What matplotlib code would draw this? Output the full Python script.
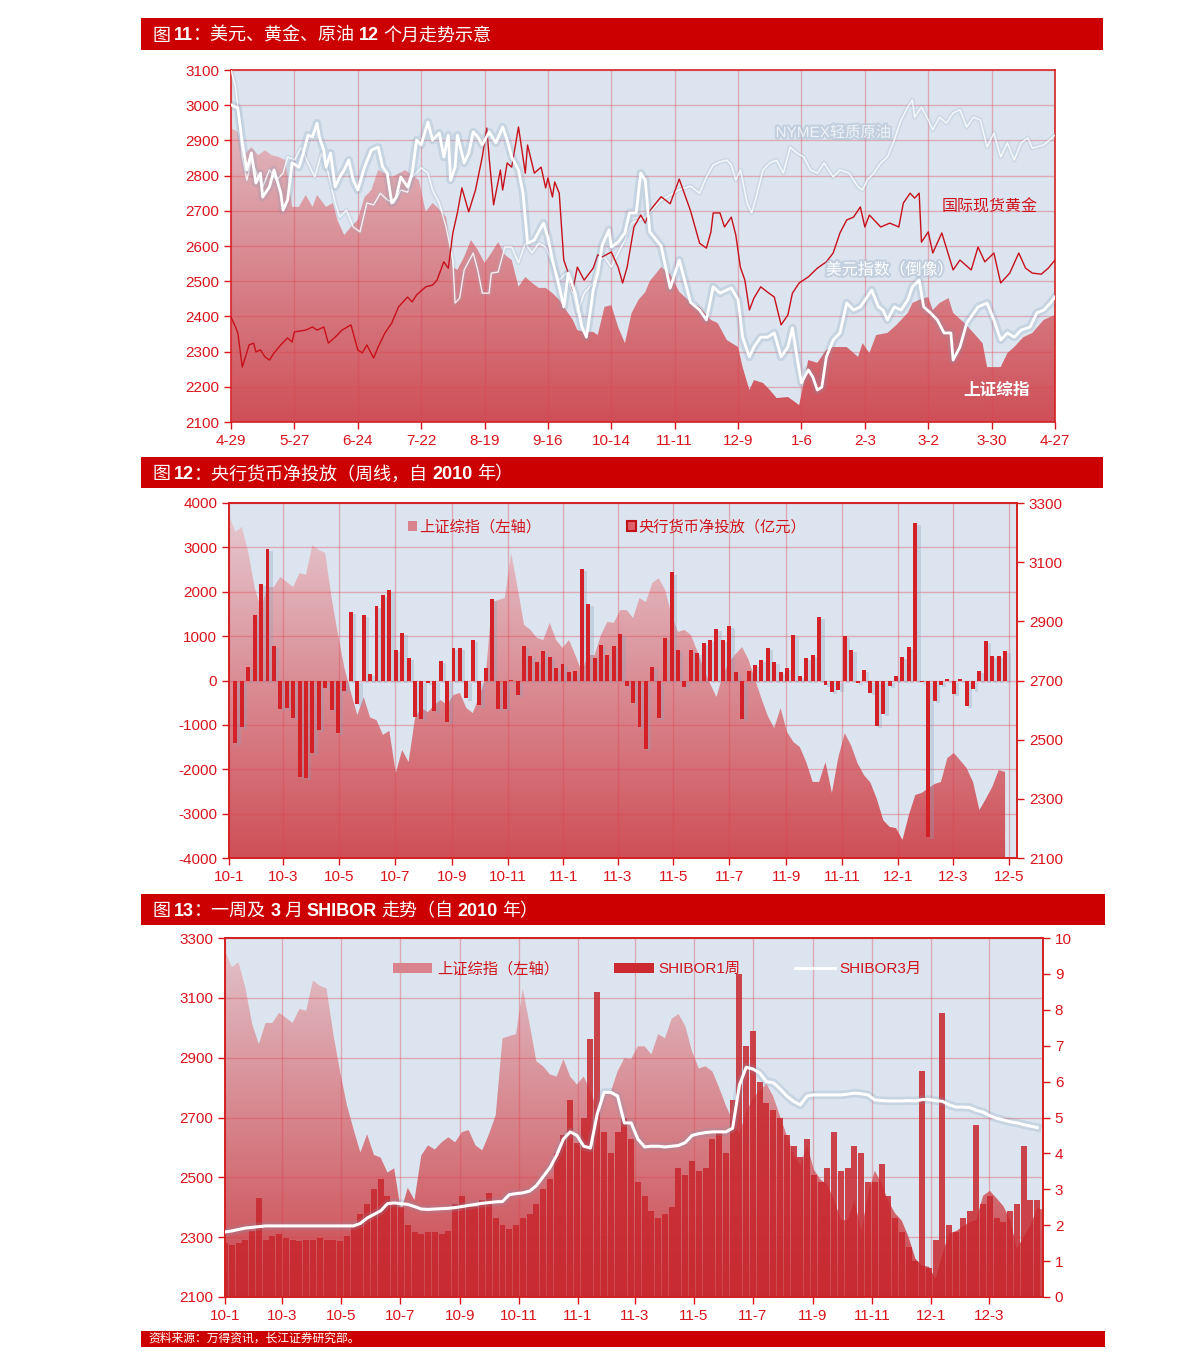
import numpy as np
import pandas as pd
import matplotlib
matplotlib.use('Agg')
import matplotlib.pyplot as plt
import matplotlib.patheffects as pe
from matplotlib.colors import LinearSegmentedColormap
from matplotlib.patches import Rectangle, Patch
from matplotlib.lines import Line2D
from matplotlib.text import Annotation

plt.rcParams['font.family'] = ['Liberation Sans', 'Noto Sans CJK SC', 'DejaVu Sans']
plt.rcParams['axes.unicode_minus'] = False

W, H = 1191, 1368
RED = '#cc0000'
TICK = '#d9141b'
SPINE = '#d42020'
BG = '#dbe4ef'
GRID = '#e0404a'

# ---------------- chart 11 : 12-month trends (days since 2011-04-29)
p1_labels = ['4-29', '5-27', '6-24', '7-22', '8-19', '9-16', '10-14', '11-11',
             '12-9', '1-6', '2-3', '3-2', '3-30', '4-27']

sh1_day = [0, 3, 5, 9, 12, 15, 18, 21, 24, 27,
           30, 33, 36, 38, 42, 45, 47, 50, 53, 56,
           59, 62, 65, 71, 77, 83, 86, 89, 91, 95,
           98, 100, 103, 106, 109, 112, 115, 118, 121, 124,
           127, 130, 133, 136, 139, 142, 145, 148, 151, 153,
           156, 160, 162, 165, 168, 171, 174, 177, 180, 183,
           185, 190, 194, 198, 203, 207, 212, 215, 219, 224,
           226, 229, 231, 235, 238, 241, 246, 248, 251, 255,
           259, 263, 266, 272, 277, 279, 282, 285, 290, 294,
           299, 301, 304, 308, 310, 313, 317, 319, 324, 328,
           332, 334, 340, 343, 346, 350, 354, 359, 364]
sh1_val = [2935, 2924, 2853, 2881, 2858, 2872, 2858, 2853, 2844, 2711,
           2711, 2745, 2711, 2745, 2711, 2722, 2674, 2631, 2654, 2674,
           2739, 2759, 2816, 2796, 2816, 2787, 2697, 2722, 2711, 2682,
           2540, 2532, 2569, 2617, 2589, 2552, 2580, 2611, 2575, 2560,
           2484, 2512, 2495, 2481, 2481, 2466, 2447, 2418, 2390, 2361,
           2356, 2356, 2347, 2427, 2432, 2370, 2324, 2410, 2447, 2469,
           2500, 2540, 2520, 2470, 2440, 2427, 2390, 2381, 2333, 2313,
           2256, 2191, 2219, 2211, 2191, 2168, 2171, 2162, 2148, 2276,
           2268, 2305, 2313, 2313, 2285, 2324, 2296, 2347, 2353, 2376,
           2410, 2438, 2447, 2455, 2418, 2438, 2452, 2410, 2381, 2353,
           2324, 2256, 2256, 2296, 2313, 2341, 2353, 2390, 2404]

usd_day = [0, 3, 5, 7, 9, 11, 13, 14, 17, 19,
           22, 23, 25, 27, 30, 32, 34, 36, 38, 39,
           41, 42, 44, 46, 48, 50, 52, 54, 56, 59,
           62, 65, 67, 69, 71, 73, 75, 78, 80, 82,
           84, 87, 89, 92, 94, 96, 97, 99, 100, 103,
           105, 107, 109, 111, 114, 117, 120, 122, 124, 127,
           129, 131, 134, 138, 140, 142, 145, 147, 149, 152,
           155, 157, 159, 160, 162, 164, 167, 168, 171, 174,
           176, 179, 181, 183, 185, 190, 194, 198, 203, 207,
           210, 213, 216, 221, 224, 226, 229, 231, 234, 237,
           240, 243, 246, 248, 250, 252, 255, 257, 259, 261,
           263, 266, 269, 272, 275, 278, 281, 283, 286, 288,
           290, 293, 296, 299, 301, 304, 306, 309, 312, 315,
           318, 319, 322, 325, 330, 334, 337, 340, 343, 346,
           349, 353, 356, 359, 362, 364]
usd_val = [3001, 2992, 2893, 2816, 2864, 2779, 2807, 2739, 2768, 2816,
           2750, 2702, 2731, 2836, 2824, 2864, 2915, 2910, 2949, 2910,
           2872, 2824, 2864, 2768, 2796, 2816, 2844, 2787, 2759, 2824,
           2872, 2881, 2824, 2807, 2722, 2739, 2796, 2768, 2807, 2901,
           2887, 2952, 2901, 2921, 2853, 2915, 2787, 2824, 2915, 2836,
           2864, 2924, 2910, 2887, 2924, 2893, 2938, 2901, 2853, 2816,
           2750, 2608, 2617, 2665, 2625, 2560, 2484, 2427, 2523, 2466,
           2370, 2341, 2427, 2475, 2523, 2603, 2646, 2597, 2611, 2637,
           2694, 2694, 2807, 2787, 2640, 2600, 2480, 2560, 2440, 2418,
           2390, 2484, 2466, 2481, 2447, 2341, 2285, 2313, 2341, 2341,
           2353, 2285, 2313, 2367, 2285, 2211, 2248, 2228, 2191, 2199,
           2285, 2333, 2353, 2438, 2418, 2427, 2455, 2475, 2427, 2418,
           2390, 2427, 2418, 2447, 2484, 2503, 2427, 2410, 2390, 2353,
           2353, 2276, 2313, 2381, 2427, 2438, 2390, 2333, 2353, 2341,
           2361, 2370, 2410, 2418, 2438, 2455]

gold_day = [0, 2, 3, 5, 8, 10, 11, 13, 15, 17,
            19, 22, 25, 27, 28, 33, 36, 38, 41, 43,
            46, 49, 53, 56, 58, 60, 63, 65, 68, 71,
            74, 78, 80, 82, 86, 89, 91, 94, 96, 98,
            100, 102, 105, 108, 111, 113, 114, 116, 119, 120,
            122, 124, 127, 130, 131, 134, 137, 139, 140, 142,
            143, 145, 147, 149, 151, 153, 156, 160, 162, 164,
            168, 171, 173, 175, 178, 181, 183, 185, 190, 194,
            198, 203, 207, 210, 212, 213, 216, 218, 221, 223,
            225, 227, 229, 231, 234, 237, 240, 243, 246, 248,
            251, 255, 259, 263, 266, 269, 272, 275, 278, 280,
            282, 287, 291, 295, 297, 300, 302, 304, 305, 308,
            310, 314, 319, 322, 327, 330, 333, 337, 340, 344,
            348, 351, 354, 358, 361, 364]
gold_val = [2398, 2370, 2353, 2256, 2319, 2324, 2299, 2305, 2285, 2276,
            2296, 2319, 2339, 2327, 2356, 2361, 2370, 2361, 2370, 2324,
            2341, 2361, 2376, 2305, 2296, 2319, 2282, 2313, 2353, 2381,
            2427, 2455, 2441, 2461, 2484, 2489, 2503, 2555, 2537, 2637,
            2694, 2765, 2697, 2759, 2853, 2935, 2853, 2717, 2816, 2759,
            2836, 2824, 2938, 2807, 2887, 2807, 2824, 2765, 2793, 2739,
            2782, 2750, 2560, 2523, 2475, 2540, 2503, 2537, 2575, 2569,
            2583, 2540, 2495, 2540, 2654, 2688, 2665, 2700, 2740, 2720,
            2790, 2700, 2608, 2594, 2640, 2694, 2694, 2654, 2682, 2631,
            2540, 2503, 2418, 2452, 2484, 2469, 2455, 2376, 2404, 2466,
            2495, 2512, 2537, 2555, 2580, 2637, 2674, 2682, 2711, 2654,
            2688, 2654, 2665, 2654, 2722, 2750, 2736, 2750, 2611, 2640,
            2580, 2637, 2532, 2560, 2532, 2597, 2555, 2580, 2495, 2523,
            2580, 2537, 2523, 2520, 2537, 2560]

oil_day = [0, 2, 4, 5, 7, 9, 12, 14, 17, 20,
           23, 25, 28, 31, 34, 37, 40, 43, 46, 48,
           51, 54, 57, 60, 63, 66, 69, 72, 75, 78,
           80, 84, 87, 89, 92, 95, 98, 99, 101, 103,
           107, 109, 111, 114, 115, 118, 121, 124, 127, 130,
           133, 136, 139, 142, 145, 148, 151, 153, 156, 160,
           162, 165, 168, 171, 174, 177, 180, 183, 190, 198,
           203, 207, 210, 213, 216, 219, 221, 223, 225, 226,
           228, 230, 232, 235, 238, 241, 244, 247, 250, 253,
           256, 259, 262, 266, 269, 273, 277, 279, 281, 284,
           287, 290, 293, 296, 299, 301, 302, 305, 308, 310,
           313, 316, 319, 322, 325, 328, 331, 334, 337, 340,
           343, 346, 349, 352, 354, 359, 364]
oil_val = [3100, 3052, 2938, 2853, 2787, 2844, 2796, 2768, 2816, 2787,
           2807, 2853, 2844, 2881, 2836, 2796, 2864, 2807, 2722, 2682,
           2702, 2654, 2640, 2722, 2717, 2750, 2731, 2722, 2759, 2753,
           2796, 2822, 2807, 2759, 2722, 2654, 2560, 2438, 2452, 2532,
           2580, 2532, 2466, 2466, 2523, 2526, 2597, 2597, 2552, 2608,
           2580, 2608, 2597, 2552, 2503, 2523, 2466, 2410, 2466, 2495,
           2552, 2569, 2540, 2580, 2617, 2665, 2674, 2682, 2730, 2760,
           2770, 2750, 2796, 2830, 2839, 2844, 2830, 2787, 2816, 2787,
           2722, 2694, 2739, 2816, 2836, 2844, 2807, 2881, 2864, 2853,
           2816, 2807, 2836, 2796, 2816, 2807, 2768, 2759, 2787, 2807,
           2836, 2853, 2901, 2958, 2995, 3015, 2966, 2995, 2958, 2930,
           2966, 2949, 2978, 2987, 2938, 2966, 2958, 2881, 2921, 2853,
           2893, 2844, 2893, 2907, 2878, 2887, 2915]

# ---------------- weekly Shanghai composite since 2010-01-01 (charts 12 & 13)
sh_week = [3259, 3202, 3219, 3134, 3013, 2945, 3016, 3016, 3050, 3033,
           3016, 3063, 3057, 3158, 3141, 3131, 2979, 2854, 2742, 2660,
           2583, 2644, 2575, 2566, 2516, 2530, 2387, 2465, 2424, 2573,
           2607, 2593, 2617, 2634, 2617, 2651, 2658, 2607, 2590, 2644,
           2708, 2965, 2972, 2979, 3131, 3013, 2888, 2871, 2844, 2837,
           2895, 2837, 2810, 2837, 2786, 2729, 2786, 2786, 2854, 2898,
           2895, 2938,
           2938, 2911, 2979, 2965, 3030, 3046, 3006, 2921, 2864, 2871,
           2854, 2800, 2740, 2690, 2644, 2719, 2763, 2790, 2813, 2770,
           2705, 2640, 2580, 2539, 2607, 2526, 2492, 2475, 2424, 2357,
           2357, 2424, 2320, 2440, 2522, 2480, 2420, 2380, 2355, 2300,
           2228, 2205, 2201, 2161, 2245, 2313, 2320, 2335, 2350, 2357,
           2438, 2455, 2430, 2404, 2357, 2262, 2300, 2340, 2397, 2391]

# weekly central bank net injection (100m yuan), from 2010-01-08
net_inj = [-1400, -1040, 307, 1483, 2172, 2966, 786, -637, -614, -839,
           -2165, -2202, -1640, -1124, -165, -674, -1176, -240, 1543, -524,
           1468, 157, 1685, 1932, 2030, 697, 1071, 509, -824, -861,
           -50, -689, 434, -929, 734, 734, -404, 921, -562, 285,
           1835, -637, -637, 20, -330, 771, 562, 412, 674, 524,
           285, 375, 187, 225, 2517, 1723, 509, 801, 577, 786,
           1049,
           -127, -517, -1049, -1550, 307, -854, 959, 2434, 697, -142,
           697, 622, 846, 906, 1161, 906, 1221, 195, -876, 225,
           345, 472, 734, 412, 187, 285, 1034, 97, 509, 569,
           1423, -105, -255, -217, 996, 697, -52, 247, -277, -1026,
           -764, -127, 112, 532, 764, 3543, -30, -3535, -464, -105,
           45, -300, 45, -577, -202, 210, 884, 547, 547, 674]

# weekly SHIBOR (%) from 2010-01-01
shibor_1w = [1.5, 1.45, 1.5, 1.6, 1.85, 2.75, 1.6, 1.7, 1.75, 1.65,
             1.6, 1.55, 1.6, 1.6, 1.65, 1.6, 1.6, 1.55, 1.7, 2.0,
             2.3, 2.6, 3.0, 3.3, 2.8, 2.6, 2.5, 2.0, 1.8, 1.75,
             1.8, 1.8, 1.75, 1.85, 2.6, 2.8, 2.6, 2.5, 2.7, 2.9,
             2.2, 2.0, 1.9, 2.0, 2.2, 2.3, 2.6, 3.0, 3.3, 4.0,
             4.5, 5.5, 4.3, 5.0, 7.2, 8.5, 4.6, 4.0, 4.6, 5.0,
             4.4, 3.2, 2.8, 2.4, 2.2, 2.3, 2.5, 3.6, 3.4, 3.8,
             3.5, 3.6, 4.4, 4.6, 4.0, 5.5, 9.0, 7.0, 7.4, 6.0,
             5.4, 5.2, 5.0, 4.5, 4.2, 3.9, 4.4, 3.4, 3.2, 3.6,
             4.6, 3.5, 3.6, 4.2, 4.0, 3.2, 3.2, 3.7, 2.8, 2.2,
             1.8, 1.4, 1.0, 6.3, 0.8, 1.6, 7.9, 2.0, 1.8, 2.2,
             2.4, 4.8, 2.6, 2.8, 2.2, 2.1, 2.4, 2.6, 4.2, 2.7,
             2.7]
shibor_3m = [1.81, 1.84, 1.88, 1.92, 1.94, 1.96, 1.98, 1.98, 1.98, 1.98,
             1.98, 1.98, 1.98, 1.98, 1.98, 1.98, 1.98, 1.98, 1.98, 1.98,
             2.05, 2.2, 2.3, 2.4, 2.6, 2.62, 2.6, 2.58, 2.52, 2.45,
             2.44, 2.45, 2.46, 2.47, 2.49, 2.52, 2.55, 2.58, 2.61, 2.63,
             2.65, 2.66, 2.85, 2.88, 2.9, 2.95, 3.1, 3.35, 3.6, 3.95,
             4.4, 4.6, 4.5, 4.2, 4.15, 5.1, 5.7, 5.7, 5.6, 4.85,
             4.85, 4.4, 4.18, 4.2, 4.2, 4.18, 4.2, 4.22, 4.3, 4.5,
             4.55, 4.58, 4.6, 4.6, 4.6, 4.7, 5.9, 6.4, 6.35, 6.24,
             6.0, 5.97, 5.8, 5.6, 5.45, 5.35, 5.6, 5.63, 5.63, 5.63,
             5.63, 5.63, 5.65, 5.68, 5.66, 5.63, 5.49, 5.47, 5.46, 5.46,
             5.46, 5.47, 5.46, 5.5, 5.5, 5.47, 5.45, 5.35, 5.29, 5.29,
             5.28, 5.2, 5.15, 5.05, 4.98, 4.93, 4.88, 4.85, 4.8, 4.76,
             4.72]

week_dates = pd.date_range('2010-01-01', periods=len(sh_week), freq='7D')
inj_dates = week_dates[1:len(net_inj) + 1]
shibor_dates = week_dates[:len(shibor_1w)]


fig = plt.figure(figsize=(W / 100, H / 100), dpi=100)


def fig_box(x0, y0, x1, y1):
    return [x0 / W, 1 - y1 / H, (x1 - x0) / W, (y1 - y0) / H]


def title_bar(y0, y1, parts, x1=1103):
    fig.patches.append(Rectangle((141 / W, 1 - y1 / H), (x1 - 141) / W, (y1 - y0) / H,
                                 transform=fig.transFigure, facecolor=RED, edgecolor='none'))
    prev = fig.text(152 / W, 1 - ((y0 + y1) / 2 + 2) / H, parts[0][0], color='white',
                    fontsize=13, weight=parts[0][1], va='center')
    for s, w, gap in parts[1:]:
        prev = fig.add_artist(Annotation(s, xy=(1, 0.5), xycoords=prev, xytext=(gap, 0),
                                         textcoords='offset points', va='center', ha='left',
                                         color='white', fontsize=13, weight=w))


def gradient_area(ax, x, y, base, top_c, bot_c, zorder=1):
    poly = ax.fill_between(x, y, base, facecolor='none', edgecolor='none')
    x0, x1 = ax.get_xlim()
    y0, y1 = ax.get_ylim()
    cmap = LinearSegmentedColormap.from_list('g', [bot_c, top_c])
    grad = np.linspace(0, 1, 256).reshape(-1, 1)
    im = ax.imshow(grad, extent=[x0, x1, y0, y1], origin='lower', aspect='auto',
                   cmap=cmap, zorder=zorder, interpolation='bilinear')
    im.set_clip_path(poly.get_paths()[0], transform=ax.transData)
    ax.set_xlim(x0, x1)
    ax.set_ylim(y0, y1)


def style_axes(*axes):
    for a in axes:
        for s in a.spines.values():
            s.set_color(SPINE)
            s.set_linewidth(1.2)
        a.tick_params(axis='both', colors=TICK, labelsize=11, length=5, width=1)


def date_ticks(ax, end):
    ticks = pd.date_range('2010-01-01', end, freq='2MS')
    ax.set_xticks(ticks)
    ax.set_xticklabels([f'{d.year - 2000}-{d.month}' for d in ticks])


glow_thick = [pe.Stroke(linewidth=6, foreground='#7f98b3', alpha=0.22), pe.Normal()]
glow_thin = [pe.Stroke(linewidth=3.5, foreground='#9eb3c9', alpha=0.22), pe.Normal()]
txt_glow = [pe.withStroke(linewidth=3, foreground='#a9bccf', alpha=0.5)]

# ================= chart 11
title_bar(18, 50, [('图', 'normal', 0), ('11', 'bold', 3), ('：美元、黄金、原油', 'normal', 0),
                   ('12', 'bold', 3), ('个月走势示意', 'normal', 3)])
ax1 = fig.add_axes(fig_box(231, 70, 1055, 422))
ax1.set_facecolor(BG)
ax1.set_xlim(0, 364)
ax1.set_ylim(2100, 3100)
gradient_area(ax1, sh1_day, sh1_val, 2100, '#e4ccd4', '#cf4f57')
ax1.plot(oil_day, oil_val, color='white', lw=1.0, alpha=0.85, zorder=3, path_effects=glow_thin)
ax1.plot(gold_day, gold_val, color='#c8101a', lw=1.0, zorder=4)
ax1.plot(usd_day, usd_val, color='white', lw=2.0, zorder=5, path_effects=glow_thick)
ax1.set_xticks(np.arange(0, 365, 28))
ax1.set_xticklabels(p1_labels)
ax1.set_yticks(np.arange(2100, 3101, 100))
ax1.set_axisbelow(False)
ax1.grid(True, color=GRID, alpha=0.35, lw=1)
ax1.text(266, 2921, 'NYMEX轻质原油', color='#eef2f7', fontsize=11, ha='center', va='center',
         zorder=6, path_effects=txt_glow)
ax1.text(335, 2711, '国际现货黄金', color='#d0141c', fontsize=11.5, ha='center', va='center', zorder=6)
ax1.text(291, 2532, '美元指数（倒像）', color='white', fontsize=11.5, ha='center', va='center',
         zorder=6, path_effects=txt_glow)
ax1.text(338, 2191, '上证综指', color='white', fontsize=12, weight='bold', ha='center',
         va='center', zorder=6)
style_axes(ax1)

# ================= chart 12
title_bar(457, 488, [('图', 'normal', 0), ('12', 'bold', 3), ('：央行货币净投放（周线，自', 'normal', 0),
                     ('2010', 'bold', 3), ('年）', 'normal', 3)])
ax2 = fig.add_axes(fig_box(229, 503, 1017, 858))
ax2r = ax2.twinx()
ax2.set_zorder(ax2r.get_zorder() + 1)
ax2.patch.set_visible(False)
ax2r.set_facecolor(BG)
ax2r.patch.set_visible(True)
end2 = pd.Timestamp('2012-05-10')
ax2r.set_xlim(week_dates[0], end2)
ax2r.set_ylim(2100, 3300)
gradient_area(ax2r, week_dates, sh_week, 2100, '#e6ccd4', '#cf4f57')
ax2.bar(inj_dates, net_inj, width=4.3, color='#d42027', zorder=3,
        path_effects=[pe.SimplePatchShadow(offset=(2.5, -1.5), shadow_rgbFace='#8aa3bd', alpha=0.3),
                      pe.Normal()])
ax2.set_xlim(week_dates[0], end2)
ax2.set_ylim(-4000, 4000)
ax2.set_yticks(np.arange(-4000, 4001, 1000))
ax2r.set_yticks(np.arange(2100, 3301, 200))
date_ticks(ax2, '2012-05-01')
ax2.grid(True, color=GRID, alpha=0.35, lw=1)
ax2.legend(handles=[Patch(facecolor='#d9848c', edgecolor='none', label='上证综指（左轴）'),
                    Patch(facecolor='#e06068', edgecolor='#c01018', lw=1.5, label='央行货币净投放（亿元）')],
           ncol=2, loc='center left', bbox_to_anchor=(0.21, 0.932), frameon=False,
           handlelength=0.6, handleheight=0.6, handletextpad=0.15, columnspacing=5.6,
           fontsize=11, labelcolor='#d0141c')
style_axes(ax2, ax2r)

# ================= chart 13
title_bar(894, 925, [('图', 'normal', 0), ('13', 'bold', 3), ('：一周及', 'normal', 0), ('3', 'bold', 3),
                     ('月', 'normal', 3), ('SHIBOR', 'bold', 3), ('走势（自', 'normal', 3),
                     ('2010', 'bold', 3), ('年）', 'normal', 3)], x1=1105)
ax3 = fig.add_axes(fig_box(225, 938, 1043, 1297))
ax3r = ax3.twinx()
ax3.set_facecolor(BG)
end3 = pd.Timestamp('2012-04-26')
ax3.set_xlim(week_dates[0], end3)
ax3.set_ylim(2100, 3300)
gradient_area(ax3, week_dates, sh_week, 2100, '#e2c4cc', '#cc464d')
ax3.set_axisbelow(False)
ax3.grid(True, color=GRID, alpha=0.35, lw=1)
ax3r.bar(shibor_dates, shibor_1w, width=6.2, color='#c8262d', alpha=0.85, lw=0, zorder=2)
ax3r.plot(shibor_dates, shibor_3m, color='white', lw=2.2, zorder=3, path_effects=glow_thick)
ax3r.set_xlim(week_dates[0], end3)
ax3r.set_ylim(0, 10)
ax3r.set_yticks(np.arange(0, 11, 1))
ax3.set_yticks(np.arange(2100, 3301, 200))
date_ticks(ax3, '2012-03-01')
ax3r.legend(handles=[Patch(facecolor='#d9848c', edgecolor='none', label='上证综指（左轴）'),
                     Patch(facecolor='#cc2a30', edgecolor='none', label='SHIBOR1周'),
                     Line2D([], [], color='white', lw=2, label='SHIBOR3月')],
            ncol=3, loc='center left', bbox_to_anchor=(0.188, 0.914), frameon=False,
            handlelength=2.6, handleheight=0.6, handletextpad=0.3, columnspacing=3.6,
            fontsize=11, labelcolor='#d0141c')
style_axes(ax3, ax3r)

# ================= source footer
fig.patches.append(Rectangle((141 / W, 1 - 1347 / H), 964 / W, 16 / H, transform=fig.transFigure,
                             facecolor=RED, edgecolor='none'))
fig.text(148 / W, 1 - 1339 / H, '资料来源：万得资讯，长江证券研究部。', color='white',
         fontsize=8.5, va='center')

fig.savefig('out.png', dpi=100, facecolor='white')
